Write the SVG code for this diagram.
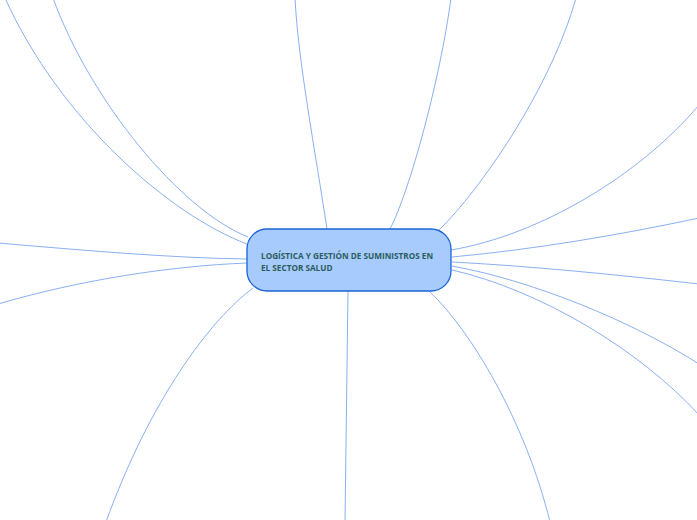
<svg xmlns="http://www.w3.org/2000/svg" width="697" height="520" viewBox="0 0 697 520">
<style>
.c{fill:none;stroke:#7ba7ef;stroke-width:0.9}
.n{fill:#a7cbfd;stroke:#1c64d6;stroke-width:1.3}
.t{font-family:"Open Sans","Liberation Sans",sans-serif;font-weight:700;font-size:8.2px;fill:#2c5d5e}
</style>
<rect width="697" height="520" fill="#ffffff"/>
<g id="connectors">
<path class="c" d="M247,244 C170,215 60,120 5,-2"/>
<path class="c" d="M248,237 C180,210 90,100 53,-2"/>
<path class="c" d="M327,229 C315,150 298,60 295,-2"/>
<path class="c" d="M390,229 C410,190 440,80 451,-2"/>
<path class="c" d="M439,230 C480,190 550,90 576,-2"/>
<path class="c" d="M451,250 C540,235 640,175 699,105"/>
<path class="c" d="M452,257 C530,250 620,235 699,218"/>
<path class="c" d="M452,262 C530,266 620,275 699,284"/>
<path class="c" d="M452,266 C530,280 630,320 699,364"/>
<path class="c" d="M452,270 C540,290 640,350 699,415"/>
<path class="c" d="M430,292 C470,330 525,420 550,522"/>
<path class="c" d="M348,291 L345,522"/>
<path class="c" d="M253,288 C210,320 150,400 106,522"/>
<path class="c" d="M247,263 C170,266 80,280 -2,304"/>
<path class="c" d="M247,259 C170,258 80,250 -2,243"/>
</g>
<g id="root">
<rect class="n" x="247" y="229" width="204" height="62" rx="20" ry="20"/>
<text class="t" x="261" y="259">LOGÍSTICA Y GESTIÓN DE SUMINISTROS EN</text>
<text class="t" x="261" y="271">EL SECTOR SALUD</text>
</g>
</svg>
